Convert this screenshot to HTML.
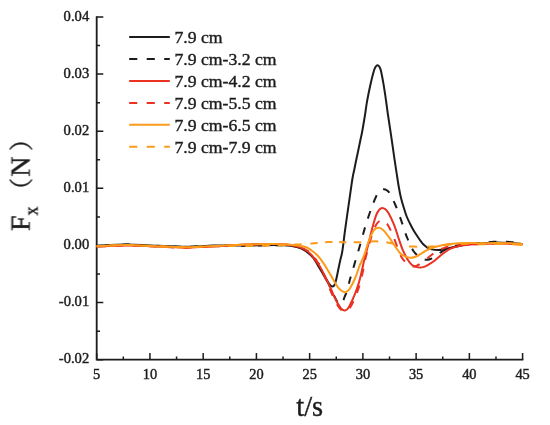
<!DOCTYPE html>
<html lang="en"><head><meta charset="utf-8"><title>Fx vs t</title>
<style>
html,body{margin:0;padding:0;background:#fff;}
body{width:550px;height:425px;overflow:hidden;}
svg{display:block;}
text{font-family:"Liberation Serif","Noto Serif CJK SC",serif;fill:#1c1c1c;stroke:#1c1c1c;stroke-width:0.4px;}
.tk{font-size:13.6px;}
.lg{font-size:17.4px;}
.ax{font-size:28px;}
</style></head><body>
<svg width="550" height="425" viewBox="0 0 550 425">
<defs><filter id="soft" x="0" y="0" width="550" height="425" filterUnits="userSpaceOnUse"><feGaussianBlur stdDeviation="0.4"/></filter></defs>
<rect width="550" height="425" fill="#fff"/>
<g filter="url(#soft)">

<g stroke="#1c1c1c" stroke-width="1.8" fill="none" stroke-linecap="butt">
<path d="M96.70 16.25V359.70H523.35"/>
<path d="M96.70 359.70h6.60M96.70 331.14h3.30M96.70 302.58h6.60M96.70 274.02h3.30M96.70 245.47h6.60M96.70 216.91h3.30M96.70 188.35h6.60M96.70 159.79h3.30M96.70 131.23h6.60M96.70 102.68h3.30M96.70 74.12h6.60M96.70 45.56h3.30M96.70 17.00h6.60M96.70 359.70v-6.60M123.32 359.70v-3.30M149.94 359.70v-6.60M176.56 359.70v-3.30M203.18 359.70v-6.60M229.79 359.70v-3.30M256.41 359.70v-6.60M283.03 359.70v-3.30M309.65 359.70v-6.60M336.27 359.70v-3.30M362.89 359.70v-6.60M389.51 359.70v-3.30M416.12 359.70v-6.60M442.74 359.70v-3.30M469.36 359.70v-6.60M495.98 359.70v-3.30M522.60 359.70v-6.60" stroke-width="1.5"/>
</g>
<g fill="none" stroke-width="2" stroke-linejoin="round">
<path d="M96.60 245.70C101.50 245.50 117.10 244.55 126.00 244.50C134.90 244.45 140.33 245.02 150.00 245.40C159.67 245.78 175.67 246.67 184.00 246.80C192.33 246.93 194.83 246.40 200.00 246.20C205.17 246.00 207.50 245.70 215.00 245.60C222.50 245.50 235.00 245.68 245.00 245.60C255.00 245.52 267.50 245.08 275.00 245.10C282.50 245.12 285.67 245.15 290.00 245.70C294.33 246.25 297.40 246.73 301.00 248.40C304.60 250.07 308.75 252.82 311.60 255.70C314.45 258.58 316.18 262.62 318.10 265.70C320.02 268.78 321.53 271.57 323.10 274.20C324.67 276.83 326.30 279.67 327.50 281.50C328.70 283.33 329.47 284.37 330.30 285.20C331.13 286.03 331.80 286.53 332.50 286.50C333.20 286.47 333.88 286.17 334.50 285.00C335.12 283.83 335.62 281.83 336.20 279.50C336.78 277.17 337.32 274.25 338.00 271.00C338.68 267.75 339.58 263.27 340.30 260.00C341.02 256.73 341.48 256.53 342.30 251.40C343.12 246.27 344.08 237.38 345.20 229.20C346.32 221.02 347.93 209.80 349.00 202.30C350.07 194.80 350.97 188.50 351.60 184.20C352.23 179.90 352.38 178.78 352.80 176.50C353.22 174.22 353.57 173.08 354.10 170.50C354.63 167.92 355.33 164.22 356.00 161.00C356.67 157.78 357.40 154.53 358.10 151.20C358.80 147.87 359.52 144.28 360.20 141.00C360.88 137.72 361.40 135.83 362.20 131.50C363.00 127.17 364.18 120.07 365.00 115.00C365.82 109.93 366.20 106.15 367.10 101.10C368.00 96.05 369.30 89.63 370.40 84.70C371.50 79.77 372.85 74.45 373.70 71.50C374.55 68.55 374.87 68.05 375.50 67.00C376.13 65.95 376.83 65.20 377.50 65.20C378.17 65.20 378.90 65.95 379.50 67.00C380.10 68.05 380.42 68.55 381.10 71.50C381.78 74.45 382.77 79.77 383.60 84.70C384.43 89.63 385.37 96.05 386.10 101.10C386.83 106.15 387.18 109.38 388.00 115.00C388.82 120.62 389.95 127.67 391.00 134.80C392.05 141.93 393.33 151.22 394.30 157.80C395.27 164.38 396.05 169.43 396.80 174.30C397.55 179.17 398.10 183.05 398.80 187.00C399.50 190.95 400.17 194.55 401.00 198.00C401.83 201.45 402.85 204.62 403.80 207.70C404.75 210.78 405.63 213.78 406.70 216.50C407.77 219.22 409.02 221.62 410.20 224.00C411.38 226.38 412.58 228.72 413.80 230.80C415.02 232.88 416.38 234.83 417.50 236.50C418.62 238.17 419.50 239.47 420.50 240.80C421.50 242.13 422.33 243.37 423.50 244.50C424.67 245.63 426.08 246.78 427.50 247.60C428.92 248.42 430.25 249.00 432.00 249.40C433.75 249.80 436.08 249.98 438.00 250.00C439.92 250.02 441.73 249.78 443.50 249.50C445.27 249.22 446.68 248.75 448.60 248.30C450.52 247.85 452.87 247.28 455.00 246.80C457.13 246.32 458.90 245.87 461.40 245.40C463.90 244.93 466.90 244.33 470.00 244.00C473.10 243.67 476.00 243.63 480.00 243.40C484.00 243.17 489.00 242.67 494.00 242.60C499.00 242.53 505.25 242.77 510.00 243.00C514.75 243.23 520.42 243.83 522.50 244.00" stroke="#1c1c1c"/>
<path d="M96.60 245.80C101.50 245.60 117.10 244.65 126.00 244.60C134.90 244.55 140.33 245.12 150.00 245.50C159.67 245.88 175.67 246.77 184.00 246.90C192.33 247.03 194.83 246.50 200.00 246.30C205.17 246.10 207.50 245.80 215.00 245.70C222.50 245.60 235.00 245.78 245.00 245.70C255.00 245.62 267.50 245.23 275.00 245.20C282.50 245.17 285.75 245.07 290.00 245.50C294.25 245.93 297.70 246.88 300.50 247.80C303.30 248.72 304.90 249.63 306.80 251.00C308.70 252.37 310.22 254.00 311.90 256.00C313.58 258.00 315.42 260.83 316.90 263.00C318.38 265.17 319.42 266.70 320.80 269.00C322.18 271.30 323.53 273.55 325.20 276.80C326.87 280.05 329.25 285.22 330.80 288.50C332.35 291.78 333.38 294.28 334.50 296.50C335.62 298.72 336.45 300.50 337.50 301.80C338.55 303.10 339.85 304.47 340.80 304.30C341.75 304.13 342.57 302.05 343.20 300.80C343.83 299.55 343.90 298.55 344.60 296.80C345.30 295.05 346.55 293.05 347.40 290.30C348.25 287.55 349.02 282.95 349.70 280.30C350.38 277.65 350.63 277.35 351.50 274.40C352.37 271.45 353.37 267.87 354.90 262.60C356.43 257.33 358.92 248.98 360.70 242.80C362.48 236.62 363.82 231.27 365.60 225.50C367.38 219.73 369.68 212.95 371.40 208.20C373.12 203.45 374.50 199.87 375.90 197.00C377.30 194.13 378.53 192.30 379.80 191.00C381.07 189.70 382.33 189.32 383.50 189.20C384.67 189.08 385.75 189.58 386.80 190.30C387.85 191.02 388.40 191.13 389.80 193.50C391.20 195.87 393.33 200.12 395.20 204.50C397.07 208.88 399.37 215.22 401.00 219.80C402.63 224.38 403.95 228.97 405.00 232.00C406.05 235.03 406.47 235.93 407.30 238.00C408.13 240.07 408.95 242.20 410.00 244.40C411.05 246.60 412.23 249.23 413.60 251.20C414.97 253.17 416.72 254.92 418.20 256.20C419.68 257.48 421.12 258.30 422.50 258.90C423.88 259.50 425.17 259.78 426.50 259.80C427.83 259.82 429.23 259.42 430.50 259.00C431.77 258.58 432.77 258.13 434.10 257.30C435.43 256.47 437.02 255.08 438.50 254.00C439.98 252.92 441.32 251.80 443.00 250.80C444.68 249.80 446.43 248.83 448.60 248.00C450.77 247.17 453.27 246.43 456.00 245.80C458.73 245.17 461.00 244.67 465.00 244.20C469.00 243.73 475.17 243.40 480.00 243.00C484.83 242.60 489.00 241.97 494.00 241.80C499.00 241.63 505.25 241.72 510.00 242.00C514.75 242.28 520.42 243.25 522.50 243.50" stroke="#1c1c1c" stroke-dasharray="7.8 9.2" stroke-dashoffset="8.5"/>
<path d="M96.60 246.60C101.50 246.40 117.10 245.45 126.00 245.40C134.90 245.35 140.33 245.92 150.00 246.30C159.67 246.68 175.67 247.57 184.00 247.70C192.33 247.83 194.83 247.30 200.00 247.10C205.17 246.90 207.50 246.92 215.00 246.50C222.50 246.08 235.00 245.00 245.00 244.60C255.00 244.20 267.50 244.02 275.00 244.10C282.50 244.18 285.73 244.52 290.00 245.10C294.27 245.68 297.75 246.62 300.60 247.60C303.45 248.58 305.13 249.60 307.10 251.00C309.07 252.40 310.68 254.00 312.40 256.00C314.12 258.00 316.25 261.42 317.40 263.00C318.55 264.58 317.98 263.20 319.30 265.50C320.62 267.80 323.40 272.97 325.30 276.80C327.20 280.63 328.92 284.58 330.70 288.50C332.48 292.42 334.42 297.15 336.00 300.30C337.58 303.45 339.07 305.80 340.20 307.40C341.33 309.00 342.00 309.38 342.80 309.90C343.60 310.42 344.23 310.62 345.00 310.50C345.77 310.38 346.57 310.12 347.40 309.20C348.23 308.28 348.77 307.47 350.00 305.00C351.23 302.53 353.32 298.13 354.80 294.40C356.28 290.67 357.67 286.80 358.90 282.60C360.13 278.40 361.28 273.08 362.20 269.20C363.12 265.32 363.38 263.42 364.40 259.30C365.42 255.18 366.98 249.72 368.30 244.50C369.62 239.28 370.97 232.95 372.30 228.00C373.63 223.05 375.10 217.88 376.30 214.80C377.50 211.72 378.50 210.65 379.50 209.50C380.50 208.35 381.32 207.93 382.30 207.90C383.28 207.87 384.35 208.42 385.40 209.30C386.45 210.18 387.17 210.63 388.60 213.20C390.03 215.77 392.27 220.32 394.00 224.70C395.73 229.08 397.55 235.32 399.00 239.50C400.45 243.68 401.32 246.57 402.70 249.80C404.08 253.03 405.78 256.40 407.30 258.90C408.82 261.40 410.35 263.47 411.80 264.80C413.25 266.13 414.63 266.45 416.00 266.90C417.37 267.35 418.67 267.50 420.00 267.50C421.33 267.50 422.78 267.27 424.00 266.90C425.22 266.53 425.55 266.33 427.30 265.30C429.05 264.27 432.23 262.37 434.50 260.70C436.77 259.03 438.32 257.27 440.90 255.30C443.48 253.33 447.15 250.42 450.00 248.90C452.85 247.38 454.58 246.93 458.00 246.20C461.42 245.47 466.83 244.85 470.50 244.50C474.17 244.15 476.08 244.25 480.00 244.10C483.92 243.95 489.00 243.65 494.00 243.60C499.00 243.55 505.25 243.65 510.00 243.80C514.75 243.95 520.42 244.38 522.50 244.50" stroke="#ea3022"/>
<path d="M96.60 246.60C101.50 246.40 117.10 245.45 126.00 245.40C134.90 245.35 140.33 245.92 150.00 246.30C159.67 246.68 175.67 247.57 184.00 247.70C192.33 247.83 194.83 247.30 200.00 247.10C205.17 246.90 207.50 246.92 215.00 246.50C222.50 246.08 235.00 245.00 245.00 244.60C255.00 244.20 267.50 244.02 275.00 244.10C282.50 244.18 285.67 244.53 290.00 245.10C294.33 245.67 298.02 246.52 301.00 247.50C303.98 248.48 305.85 249.58 307.90 251.00C309.95 252.42 311.58 254.00 313.30 256.00C315.02 258.00 317.08 261.42 318.20 263.00C319.32 264.58 318.90 263.20 320.00 265.50C321.10 267.80 323.20 272.97 324.80 276.80C326.40 280.63 327.93 284.58 329.60 288.50C331.27 292.42 333.17 297.08 334.80 300.30C336.43 303.52 338.13 306.10 339.40 307.80C340.67 309.50 341.47 309.95 342.40 310.50C343.33 311.05 344.07 311.20 345.00 311.10C345.93 311.00 346.95 310.83 348.00 309.90C349.05 308.97 349.95 307.98 351.30 305.50C352.65 303.02 354.62 298.75 356.10 295.00C357.58 291.25 359.00 287.25 360.20 283.00C361.40 278.75 362.48 273.33 363.30 269.50C364.12 265.67 364.18 263.92 365.10 260.00C366.02 256.08 367.52 250.67 368.80 246.00C370.08 241.33 371.43 235.75 372.80 232.00C374.17 228.25 375.60 225.47 377.00 223.50C378.40 221.53 379.95 220.57 381.20 220.20C382.45 219.83 383.42 220.55 384.50 221.30C385.58 222.05 386.35 222.48 387.70 224.70C389.05 226.92 390.95 230.75 392.60 234.60C394.25 238.45 396.13 244.05 397.60 247.80C399.07 251.55 400.02 254.65 401.40 257.10C402.78 259.55 404.55 261.13 405.90 262.50C407.25 263.87 408.22 264.65 409.50 265.30C410.78 265.95 412.43 266.32 413.60 266.40C414.77 266.48 415.58 266.13 416.50 265.80C417.42 265.47 417.45 265.55 419.10 264.40C420.75 263.25 424.28 260.50 426.40 258.90C428.52 257.30 430.03 256.08 431.80 254.80C433.57 253.52 435.18 252.25 437.00 251.20C438.82 250.15 440.98 249.18 442.70 248.50C444.42 247.82 444.80 247.63 447.30 247.10C449.80 246.57 453.83 245.75 457.70 245.30C461.57 244.85 466.78 244.60 470.50 244.40C474.22 244.20 476.08 244.23 480.00 244.10C483.92 243.97 489.00 243.65 494.00 243.60C499.00 243.55 505.25 243.65 510.00 243.80C514.75 243.95 520.42 244.38 522.50 244.50" stroke="#ea3022" stroke-dasharray="7.8 9.2" stroke-dashoffset="-1.8"/>
<path d="M96.60 246.20C101.50 246.00 117.10 245.05 126.00 245.00C134.90 244.95 140.33 245.52 150.00 245.90C159.67 246.28 175.67 247.17 184.00 247.30C192.33 247.43 194.83 246.90 200.00 246.70C205.17 246.50 207.50 246.47 215.00 246.10C222.50 245.73 235.00 244.85 245.00 244.50C255.00 244.15 267.50 243.95 275.00 244.00C282.50 244.05 286.17 244.53 290.00 244.80C293.83 245.07 295.27 245.18 298.00 245.60C300.73 246.02 304.07 246.43 306.40 247.30C308.73 248.17 310.15 249.43 312.00 250.80C313.85 252.17 315.80 253.75 317.50 255.50C319.20 257.25 320.75 259.30 322.20 261.30C323.65 263.30 324.82 265.25 326.20 267.50C327.58 269.75 328.80 271.88 330.50 274.80C332.20 277.72 334.78 282.50 336.40 285.00C338.02 287.50 338.83 288.60 340.20 289.80C341.57 291.00 343.35 292.00 344.60 292.20C345.85 292.40 346.72 291.80 347.70 291.00C348.68 290.20 349.25 289.57 350.50 287.40C351.75 285.23 353.73 281.48 355.20 278.00C356.67 274.52 358.22 269.33 359.30 266.50C360.38 263.67 360.78 263.17 361.70 261.00C362.62 258.83 363.73 256.53 364.80 253.50C365.87 250.47 366.87 246.22 368.10 242.80C369.33 239.38 371.05 235.30 372.20 233.00C373.35 230.70 374.03 229.88 375.00 229.00C375.97 228.12 377.00 227.78 378.00 227.70C379.00 227.62 379.92 227.90 381.00 228.50C382.08 229.10 383.08 229.73 384.50 231.30C385.92 232.87 387.85 235.57 389.50 237.90C391.15 240.23 392.65 242.78 394.40 245.30C396.15 247.82 398.32 251.18 400.00 253.00C401.68 254.82 402.83 255.42 404.50 256.20C406.17 256.98 408.42 257.53 410.00 257.70C411.58 257.87 412.63 257.57 414.00 257.20C415.37 256.83 416.28 256.55 418.20 255.50C420.12 254.45 423.23 252.15 425.50 250.90C427.77 249.65 429.23 248.90 431.80 248.00C434.37 247.10 437.87 246.18 440.90 245.50C443.93 244.82 445.68 244.33 450.00 243.90C454.32 243.47 461.80 243.00 466.80 242.90C471.80 242.80 475.47 243.28 480.00 243.30C484.53 243.32 489.00 243.02 494.00 243.00C499.00 242.98 505.25 243.03 510.00 243.20C514.75 243.37 520.42 243.87 522.50 244.00" stroke="#fc9a1a"/>
<path d="M96.60 246.20C101.50 246.00 117.10 245.05 126.00 245.00C134.90 244.95 140.33 245.52 150.00 245.90C159.67 246.28 175.67 247.17 184.00 247.30C192.33 247.43 194.83 246.90 200.00 246.70C205.17 246.50 207.50 246.23 215.00 246.10C222.50 245.97 235.00 246.02 245.00 245.90C255.00 245.78 267.50 245.62 275.00 245.40C282.50 245.18 285.83 244.77 290.00 244.60C294.17 244.43 296.37 244.58 300.00 244.40C303.63 244.22 307.10 243.90 311.80 243.50C316.50 243.10 322.93 242.22 328.20 242.00C333.47 241.78 338.10 242.15 343.40 242.20C348.70 242.25 354.23 242.43 360.00 242.30C365.77 242.17 372.27 241.17 378.00 241.40C383.73 241.63 389.90 242.93 394.40 243.70C398.90 244.47 402.02 245.52 405.00 246.00C407.98 246.48 408.05 246.50 412.30 246.60C416.55 246.70 424.55 246.92 430.50 246.60C436.45 246.28 441.95 245.17 448.00 244.70C454.05 244.23 461.47 243.88 466.80 243.80C472.13 243.72 475.47 244.15 480.00 244.20C484.53 244.25 489.00 244.10 494.00 244.10C499.00 244.10 505.25 244.08 510.00 244.20C514.75 244.32 520.42 244.70 522.50 244.80" stroke="#fc9a1a" stroke-dasharray="3.1 9.7 7.3 9.7 7.3 9.7 7.3 9.7 7.3 9.7 7.3 9.7 7.3 9.7 7.3 9.7 7.3 9.7 7.9 8.7 7.8 8.1 7.8 8.4 7.7 8.8 7.4 7.3 7.4 6.8 7.2 7.4 7.4 9.1 7.9 8.1 7.7 15.4 8.3 9.9 7.6 9.2 7.7 9.3 7.7 9.1 8.1 9.1 7.9 9.3 10.7 50.0" stroke-dashoffset="0"/>
</g>
<g class="tk" text-anchor="end">
<text transform="translate(89.2 363.20) scale(1.075 1)">-0.02</text>
<text transform="translate(89.2 306.08) scale(1.075 1)">-0.01</text>
<text transform="translate(89.2 248.97) scale(1.075 1)">0.00</text>
<text transform="translate(89.2 191.85) scale(1.075 1)">0.01</text>
<text transform="translate(89.2 134.73) scale(1.075 1)">0.02</text>
<text transform="translate(89.2 77.62) scale(1.075 1)">0.03</text>
<text transform="translate(89.2 20.50) scale(1.075 1)">0.04</text>
</g>
<g class="tk" text-anchor="middle">
<text transform="translate(96.70 378.5) scale(1.06 1)">5</text>
<text transform="translate(149.94 378.5) scale(1.06 1)">10</text>
<text transform="translate(203.18 378.5) scale(1.06 1)">15</text>
<text transform="translate(256.41 378.5) scale(1.06 1)">20</text>
<text transform="translate(309.65 378.5) scale(1.06 1)">25</text>
<text transform="translate(362.89 378.5) scale(1.06 1)">30</text>
<text transform="translate(416.12 378.5) scale(1.06 1)">35</text>
<text transform="translate(469.36 378.5) scale(1.06 1)">40</text>
<text transform="translate(522.60 378.5) scale(1.06 1)">45</text>
</g>
<g fill="none" stroke-width="2">
<path d="M129.2 37.10H169.8" stroke="#1c1c1c"/>
<path d="M129.2 59.03H169.8" stroke="#1c1c1c" stroke-dasharray="8.1 9.4"/>
<path d="M129.2 80.96H169.8" stroke="#ea3022"/>
<path d="M129.2 102.89H169.8" stroke="#ea3022" stroke-dasharray="8.1 9.4"/>
<path d="M129.2 124.82H169.8" stroke="#fc9a1a"/>
<path d="M129.2 146.75H169.8" stroke="#fc9a1a" stroke-dasharray="8.1 9.4"/>
</g>
<g class="lg">
<text transform="translate(174.4 43.20) scale(1.017 1)">7.9 cm</text>
<text transform="translate(174.4 65.13) scale(1.017 1)">7.9 cm-3.2 cm</text>
<text transform="translate(174.4 87.06) scale(1.017 1)">7.9 cm-4.2 cm</text>
<text transform="translate(174.4 108.99) scale(1.017 1)">7.9 cm-5.5 cm</text>
<text transform="translate(174.4 130.92) scale(1.017 1)">7.9 cm-6.5 cm</text>
<text transform="translate(174.4 152.85) scale(1.017 1)">7.9 cm-7.9 cm</text>
</g>
<text class="ax" x="296.3" y="416.4" style="font-size:28.4px">t/s</text>
<text class="ax" transform="translate(29.6 231) rotate(-90)"><tspan x="0" y="0">F</tspan><tspan x="15.6" y="8" font-size="18px">x</tspan><tspan x="29.05" y="0" font-size="24px">（</tspan><tspan x="54.3" y="0">N</tspan><tspan x="79.9" y="0" font-size="24px">）</tspan></text>
</g>
</svg></body></html>
